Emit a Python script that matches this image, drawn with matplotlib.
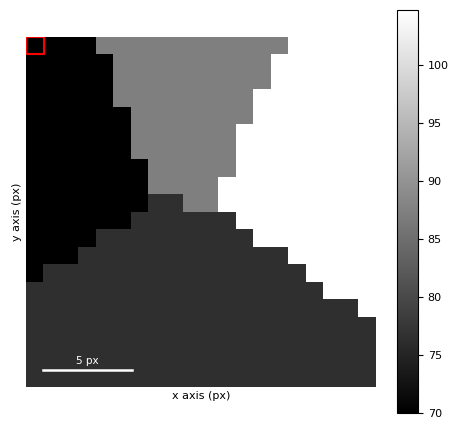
import numpy as np
import matplotlib
matplotlib.use("Agg")
import matplotlib.pyplot as plt
from matplotlib.patches import Rectangle

# region values
v_black, v_dark, v_gray, v_white = 70.0, 76.5, 87.3, 104.7
# per row: (black_end, dark_end_or_start info) -> segments list of (value, width)
rows = [
    [(v_black,4),(v_gray,11),(v_white,5)],
    [(v_black,5),(v_gray,9),(v_white,6)],
    [(v_black,5),(v_gray,9),(v_white,6)],
    [(v_black,5),(v_gray,8),(v_white,7)],
    [(v_black,6),(v_gray,7),(v_white,7)],
    [(v_black,6),(v_gray,6),(v_white,8)],
    [(v_black,6),(v_gray,6),(v_white,8)],
    [(v_black,7),(v_gray,5),(v_white,8)],
    [(v_black,7),(v_gray,4),(v_white,9)],
    [(v_black,7),(v_dark,2),(v_gray,2),(v_white,9)],
    [(v_black,6),(v_dark,6),(v_white,8)],
    [(v_black,4),(v_dark,9),(v_white,7)],
    [(v_black,3),(v_dark,12),(v_white,5)],
    [(v_black,1),(v_dark,15),(v_white,4)],
    [(v_dark,17),(v_white,3)],
    [(v_dark,19),(v_white,1)],
    [(v_dark,20)],[(v_dark,20)],[(v_dark,20)],[(v_dark,20)],
]
data = np.array([[v for v, w in r for _ in range(w)] for r in rows])

fig = plt.figure(figsize=(4.74, 4.30), dpi=100)
ax = fig.add_axes([26/474, 1-387/430, 350/474, 350/430])
im = ax.imshow(data, cmap="gray", vmin=70, vmax=104.7, interpolation="nearest")
ax.set_xticks([]); ax.set_yticks([])
for s in ax.spines.values():
    s.set_visible(False)
ax.set_xlabel("x axis (px)", fontsize=8, labelpad=3)
ax.set_ylabel("y axis (px)", fontsize=8, labelpad=3)
ax.add_patch(Rectangle((-0.5, -0.5), 1, 1, fill=False, edgecolor="red", lw=1.5))
ax.plot([0.45, 5.55], [18.55, 18.55], color="white", lw=1.8)
ax.text(3.0, 18.3, "5 px", color="white", ha="center", va="bottom", fontsize=7.5)
cax = fig.add_axes([397/474, 1-413/430, 21/474, 403/430])
cb = fig.colorbar(im, cax=cax)
cb.set_ticks([70, 75, 80, 85, 90, 95, 100])
cb.ax.tick_params(labelsize=8)
fig.savefig("out.png", dpi=100)
